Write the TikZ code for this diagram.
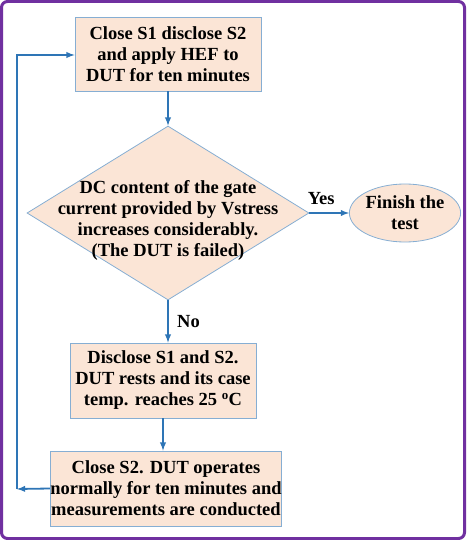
\documentclass[tikz,border=0pt]{standalone}
\usepackage{fontspec}
\setmainfont{Liberation Serif}[BoldFont={Liberation Serif Bold}]
\usetikzlibrary{arrows}
\usetikzlibrary{shapes.geometric}
\definecolor{boxfill}{HTML}{FBE5D6}
\definecolor{boxline}{HTML}{86AED3}
\definecolor{flowline}{HTML}{2E75B6}
\definecolor{framecol}{HTML}{7030A0}
\begin{document}
\begin{tikzpicture}
[x=1pt,y=-1pt,
  stepbox/.style={shape=rectangle,draw=boxline,fill=boxfill,line width=0.8pt,
    align=center,inner sep=0pt,font=\bfseries\fontsize{18.5}{21}\selectfont},%
  decision/.style={shape=diamond,draw=boxline,fill=boxfill,line width=0.8pt,
    inner sep=0pt,minimum width=282pt,minimum height=174pt},%
  endnode/.style={shape=ellipse,draw=boxline,fill=boxfill,line width=0.8pt,
    inner sep=0pt,minimum width=89pt,minimum height=58pt,align=center,
    font=\bfseries\fontsize{18.5}{21}\selectfont},%
  plaintext/.style={align=center,font=\bfseries\fontsize{18.5}{21}\selectfont},%
  linedecorate/.style={-latex,draw=flowline,line width=1.8pt}]
\useasboundingbox (0,0) rectangle (466,540);
%% outer frame
\draw[framecol,line width=3pt,rounded corners=6pt] (1.5,1.5) rectangle (464.5,538.5);
%% nodes or vertices
\node (close) at (168,54) [stepbox,minimum width=186pt,minimum height=74pt]
  {Close S1 disclose S2\\and apply HEF to\\DUT for ten minutes};
\node (test) at (168,213) [decision] {};
\node (testtext) at (168,220) [plaintext]
  {DC content of the gate\\current provided by Vstress\\increases considerably.\\(The DUT is failed)};
\node (finish) at (405,213) [endnode] {Finish the\\test};
\node (rest) at (163,380.5) [stepbox,minimum width=186pt,minimum height=75pt]
  {Disclose S1 and S2.\\DUT rests and its case\\temp. reaches 25 \textsuperscript{o}C};
\node (operate) at (166,488.5) [stepbox,minimum width=230pt,minimum height=75pt]
  {Close S2. DUT operates\\normally for ten minutes and\\measurements are conducted};
\coordinate (loopdown) at (17,489);
\coordinate (loopup) at (17,55);
%% edges or lines
\draw[linedecorate] (close) -- (test.north);
\draw[linedecorate] (test.east) -- node[plaintext,above=4pt,pos=0.3] {Yes} (finish);
\draw[linedecorate] (test.south) -- node[plaintext,right=5pt] {No} (test.south |- rest.north);
\draw[linedecorate] (rest) -- (rest.south |- operate.north);
\draw[linedecorate] (operate.west) -- (loopdown);
\draw[linedecorate] (loopdown) -- (loopup) -- (close.west |- loopup);
\end{tikzpicture}
\end{document}
